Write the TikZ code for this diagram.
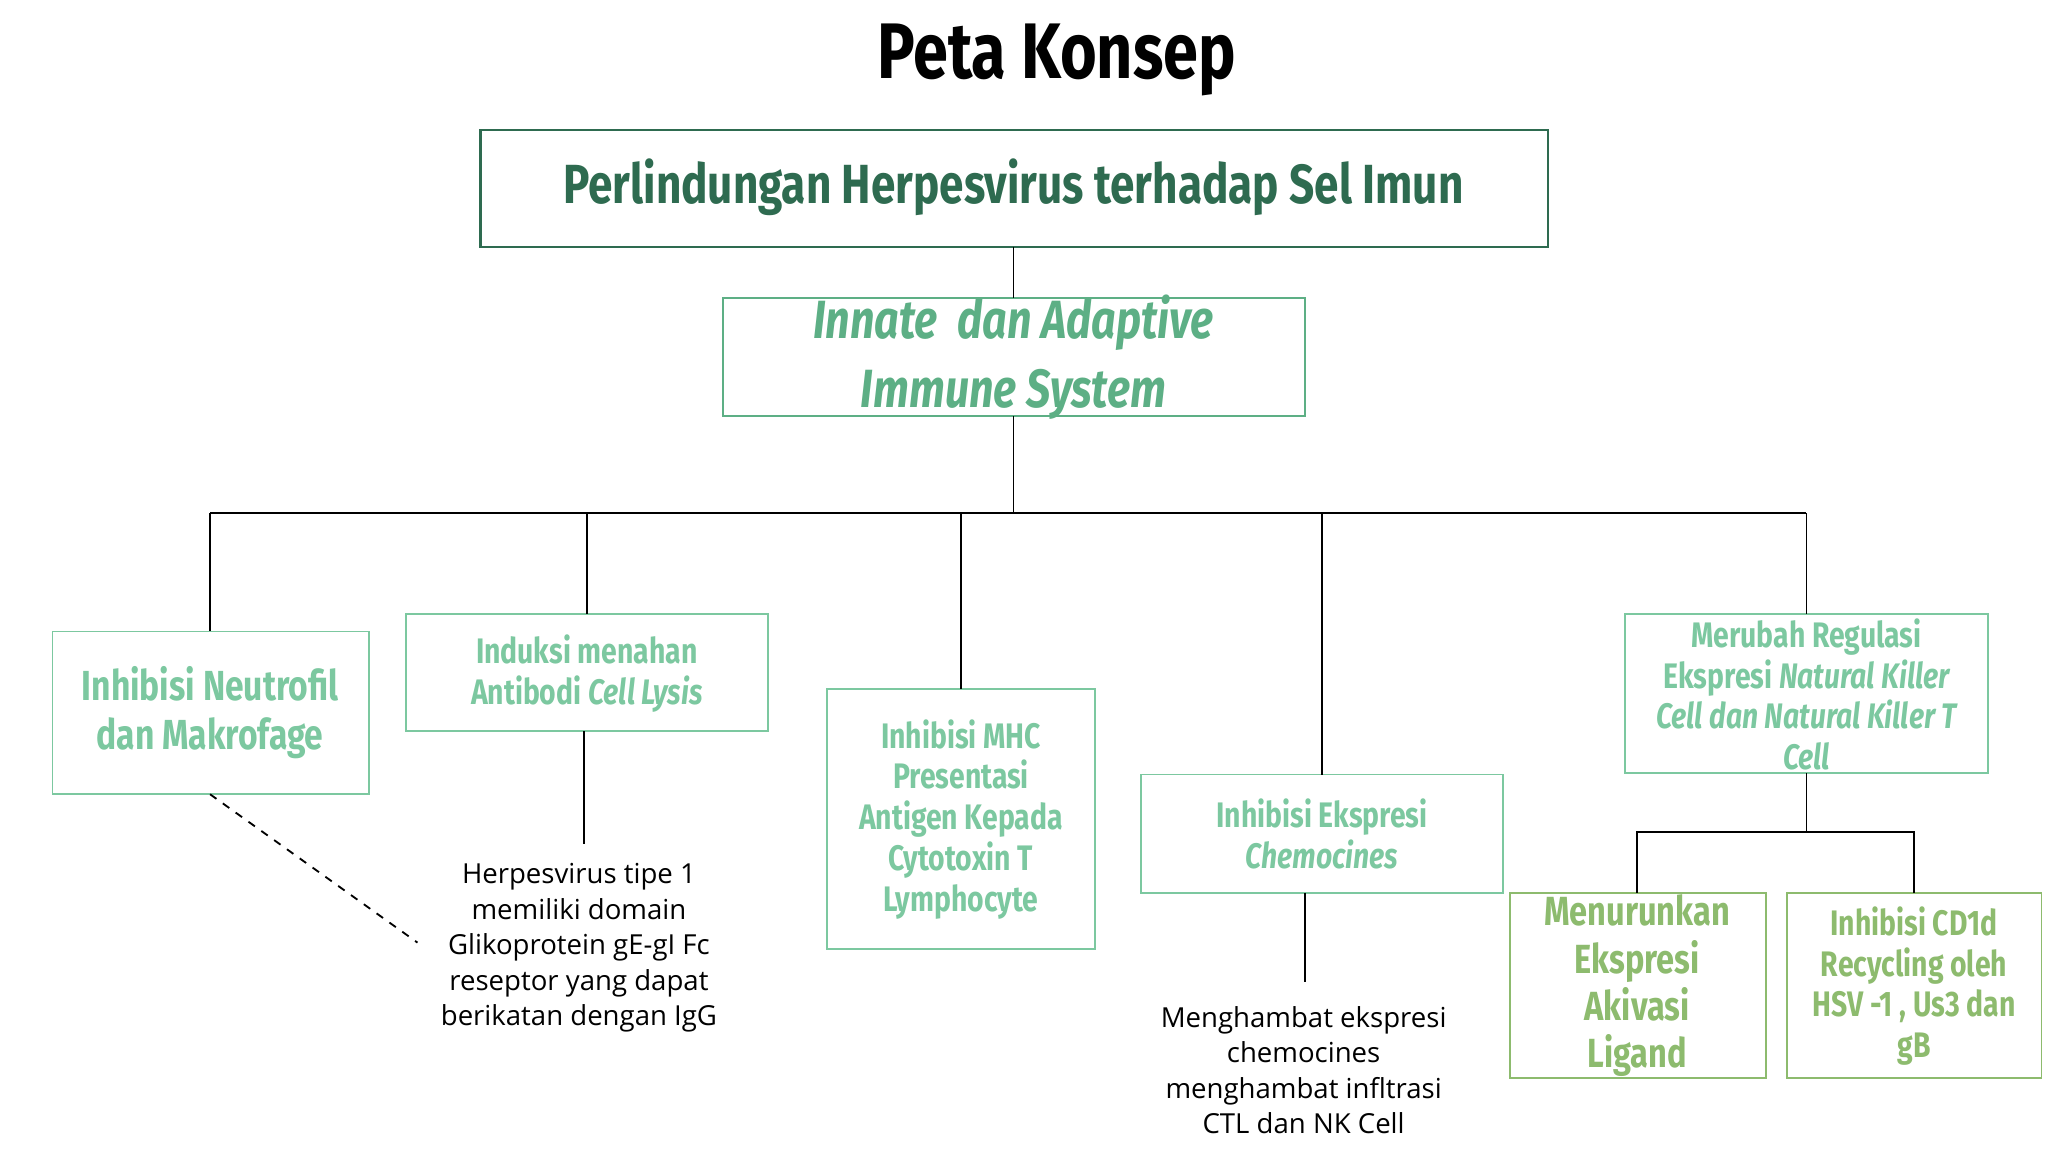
\documentclass[tikz,border=0pt]{standalone}
\usepackage{fontspec}
\setmainfont{Open Sans}
\newfontfamily\cond[FakeStretch=0.80]{Fira Sans}
\definecolor{dgreen}{HTML}{2E6B50}
\definecolor{tgreen}{HTML}{5DAF85}
\definecolor{lgreen}{HTML}{7CC8A0}
\definecolor{ogreen}{HTML}{8DBB6E}
\tikzset{
 bx/.style={draw=#1,line width=0.7pt,inner sep=0,align=center},
 lbl/.style={font=\cond\bfseries\fontsize{13.5}{15.5}\selectfont,text=lgreen,align=center},
 body/.style={font=\fontsize{10.5}{13.5}\selectfont,align=center,text=black},
 ln/.style={line width=0.7pt}
}
\begin{document}
\begin{tikzpicture}[x=0.5pt,y=-0.5pt]
\useasboundingbox[fill=white] (0,0) rectangle (1560,878);
\node[font=\cond\bfseries\fontsize{30}{34}\selectfont] (t) at (805,46) {Peta Konsep};
\draw[dgreen,line width=0.8pt] (366,99) rectangle (1179,188);
\node[font=\cond\bfseries\fontsize{21}{25}\selectfont,text=dgreen] (b1) at (772,143) {Perlindungan Herpesvirus terhadap Sel Imun};
\coordinate (b1s) at (772,188);
\draw[tgreen,line width=0.7pt] (551,227) rectangle (994,317);
\node[font=\cond\bfseries\itshape\fontsize{20.5}{26}\selectfont,text=tgreen,align=center] (b2) at (772,272) {Innate\ \ dan Adaptive\\Immune System};
\coordinate (b2n) at (772,227); \coordinate (b2s) at (772,317);
\draw[ln] (b1s)--(b2n);
\coordinate (h) at (772,391);
\draw[ln] (b2s)--(h);
\draw[ln] (160,391)--(1376,391);
% children boxes
\draw[lgreen,line width=0.7pt] (40,481) rectangle (281,605);
\node[lbl,font=\cond\bfseries\fontsize{16}{18.5}\selectfont] (a) at (160,543) {Inhibisi Neutrofil\\dan Makrofage};
\draw[lgreen,line width=0.7pt] (309,468) rectangle (585,557);
\node[lbl] (b) at (447,513) {Induksi menahan\\Antibodi \itshape Cell Lysis};
\draw[lgreen,line width=0.7pt] (630,525) rectangle (834,723);
\node[lbl] (c) at (732,624) {Inhibisi MHC\\Presentasi\\Antigen Kepada\\Cytotoxin T\\Lymphocyte};
\draw[lgreen,line width=0.7pt] (869,590) rectangle (1145,680);
\node[lbl] (d) at (1007,635) {Inhibisi Ekspresi\\\itshape Chemocines};
\draw[lgreen,line width=0.7pt] (1238,468) rectangle (1514,589);
\node[lbl] (e) at (1376,529) {Merubah Regulasi\\Ekspresi \itshape Natural Killer\\\itshape Cell dan Natural Killer T\\\itshape Cell};
\draw[ogreen,line width=0.7pt] (1150,680) rectangle (1345,821);
\node[lbl,text=ogreen,font=\cond\bfseries\fontsize{15.5}{18}\selectfont] (f) at (1247,751) {Menurunkan\\Ekspresi\\Akivasi\\Ligand};
\draw[ogreen,line width=0.7pt] (1361,680) rectangle (1555,821);
\node[lbl,text=ogreen] (g) at (1458,751) {Inhibisi CD1d\\Recycling oleh\\HSV -1 , Us3 dan\\gB};
\draw[ln] (160,391)--(160,481);
\draw[ln] (447,391)--(447,468);
\draw[ln] (732,391)--(732,525);
\draw[ln] (1007,391)--(1007,590);
\draw[ln] (1376,391)--(1376,468);
\draw[ln] (1376,589)--(1376,634);
\draw[ln] (1247,680)--(1247,634)--(1458,634)--(1458,680);
% body texts
\node[body] (bt) at (441,722) {Herpesvirus tipe 1\\memiliki domain\\Glikoprotein gE-gI Fc\\reseptor yang dapat\\berikatan dengan IgG};
\draw[ln] (445,557)--(445,643);
\draw[ln,dashed] (160,605)--(318,718);
\node[body] (dt) at (993,815) {Menghambat ekspresi\\chemocines\\menghambat infltrasi\\CTL dan NK Cell};
\draw[ln] (994,680)--(994,748);
\end{tikzpicture}
\end{document}
